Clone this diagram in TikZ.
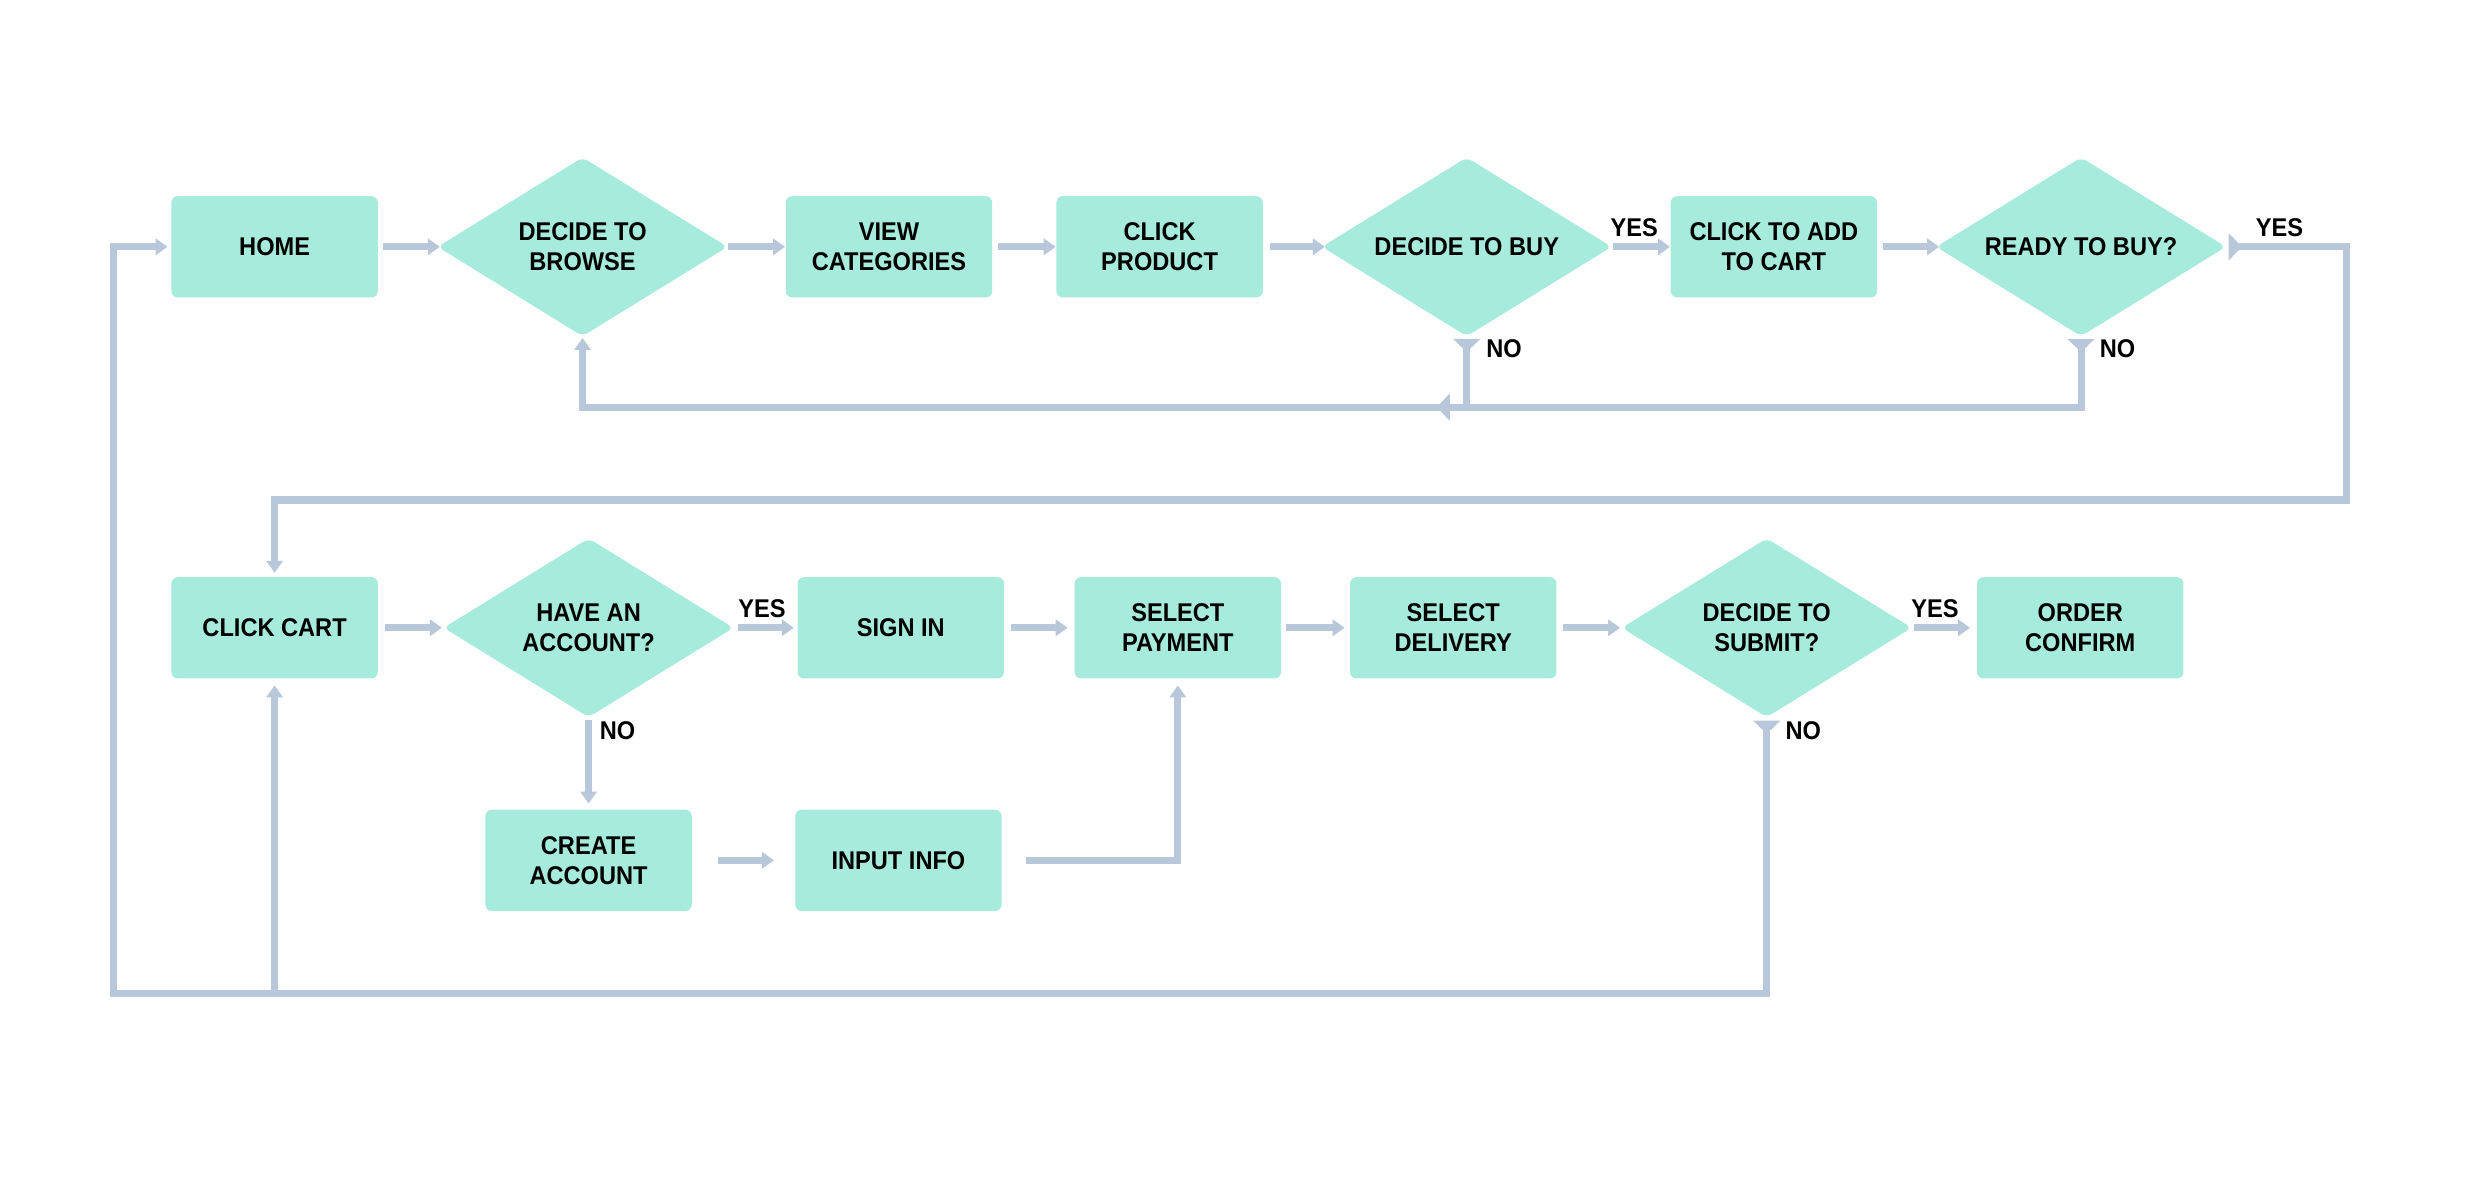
\documentclass[tikz,border=0pt]{standalone}
\usepackage{fontspec}
\setmainfont{Liberation Sans}[FakeStretch=0.92]
\usetikzlibrary{arrows.meta,shapes.geometric,calc}
\definecolor{fillc}{HTML}{A6EBDB}
\definecolor{linec}{HTML}{B8C7DA}
\begin{document}
\begin{tikzpicture}[x=0.015874cm,y=-0.015874cm,
  txt/.style={font=\bfseries\fontsize{7.3}{8.6}\selectfont, text=black},
  box/.style={txt, rectangle, rounded corners=1.8pt, fill=fillc, minimum width=58.7pt, minimum height=28.8pt, inner sep=0pt, align=center},
  dia/.style={txt, diamond, aspect=1.6, rounded corners=1.8pt, fill=fillc, minimum width=82.6pt, minimum height=51pt, inner sep=0pt, align=center},
  link/.style={draw=linec, line width=2pt},
  arr/.style={link, -{Triangle[length=3.4pt,width=4.6pt]}},
  tailarr/.style={link, {Triangle[reversed,length=3.8pt,width=7.6pt]}-{Triangle[length=3.4pt,width=4.6pt]}},
  tailbig/.style={link, {Triangle[reversed,length=3.8pt,width=7.6pt]}-{Triangle[length=3.8pt,width=7.6pt]}},
  lbl/.style={txt, inner sep=0pt}
]
\useasboundingbox (0,0) rectangle (1568,756.6);

% row 1
\node[box] (home) at (173,155.5) {HOME};
\node[dia] (browse) at (367,155.5) {DECIDE TO\\BROWSE};
\node[box] (view) at (560,155.5) {VIEW\\CATEGORIES};
\node[box] (clickp) at (730.5,155.5) {CLICK\\PRODUCT};
\node[dia] (buy) at (924,155.5) {DECIDE TO BUY};
\node[box] (addcart) at (1117.5,155.5) {CLICK TO ADD\\TO CART};
\node[dia] (ready) at (1311,155.5) {READY TO BUY?};

% row 2
\node[box] (cart) at (173,395.5) {CLICK CART};
\node[dia] (have) at (370.8,395.5) {HAVE AN\\ACCOUNT?};
\node[box] (signin) at (567.5,395.5) {SIGN IN};
\node[box] (payment) at (742,395.5) {SELECT\\PAYMENT};
\node[box] (delivery) at (915.5,395.5) {SELECT\\DELIVERY};
\node[dia] (submit) at (1113,395.5) {DECIDE TO\\SUBMIT?};
\node[box] (confirm) at (1310.5,395.5) {ORDER\\CONFIRM};

% row 3
\node[box] (create) at (370.8,542) {CREATE\\ACCOUNT};
\node[box] (input) at (566,542) {INPUT INFO};

% labels
\node[lbl] (y1) at (1029.5,143.5) {YES};
\node[lbl] (y2) at (1436,143.5) {YES};
\node[lbl] (n1) at (947.5,219.6) {NO};
\node[lbl] (n2) at (1334,219.6) {NO};
\node[lbl] (y3) at (480,383.5) {YES};
\node[lbl] (y4) at (1219,383.5) {YES};
\node[lbl] (n3) at (389,460) {NO};
\node[lbl] (n4) at (1136,460) {NO};

% helper coordinates
\coordinate (rj) at (905,256.5);
\coordinate (bot) at (0,626);
\coordinate (rtop) at (1478,155.5);
\coordinate (rbot) at (1478,315);
\coordinate (bl) at (71.7,626);

% straight arrows
\draw[arr] ($(home.east)+(3,0)$) -- ($(browse.west)+(2,0)$);
\draw[arr] (browse.east) -- (view.west);
\draw[arr] ($(view.east)+(3,0)$) -- (clickp.west);
\draw[arr] ($(clickp.east)+(4,0)$) -- ($(buy.west)+(2.5,0)$);
\draw[arr] (buy.east) -- (addcart.west);
\draw[arr] ($(addcart.east)+(3,0)$) -- ($(ready.west)+(2.5,0)$);
\draw[arr] ($(cart.east)+(4,0)$) -- ($(have.west)+(-0.5,0)$);
\draw[arr] ($(have.east)+(2,0)$) -- ($(signin.west)+(-2,0)$);
\draw[arr] ($(signin.east)+(4,0)$) -- ($(payment.west)+(-4,0)$);
\draw[arr] ($(payment.east)+(3,0)$) -- ($(delivery.west)+(-3,0)$);
\draw[arr] ($(delivery.east)+(4,0)$) -- ($(submit.west)+(-0.5,0)$);
\draw[arr] ($(submit.east)+(0.6,0)$) -- ($(confirm.west)+(-4,0)$);
\draw[arr] ($(create.east)+(16,0)$) -- ($(input.west)+(-13,0)$);
\draw[arr] ($(have.south)+(0,1)$) -- ($(create.north)+(0,-3.5)$);

% loops
\draw[arr] ($(input.east)+(15,0)$) -| ($(payment.south)+(0,4)$);
\draw[tailarr] ($(buy.south)+(0,1)$) -- (buy.south |- rj) -| ($(browse.south)+(0,0.5)$);
\draw[tailbig] ($(ready.south)+(0,1)$) |- (rj);
\draw[tailarr] ($(ready.east)+(1,0)$) -- (rtop) -- (rbot) -| ($(cart.north)+(0,-2.3)$);
\draw[tailarr] ($(submit.south)+(0,1.5)$) |- (bl) |- ($(home.west)+(-2,0)$);
\draw[arr] (cart.south |- bot) -- ($(cart.south)+(0,4)$);
\end{tikzpicture}
\end{document}
